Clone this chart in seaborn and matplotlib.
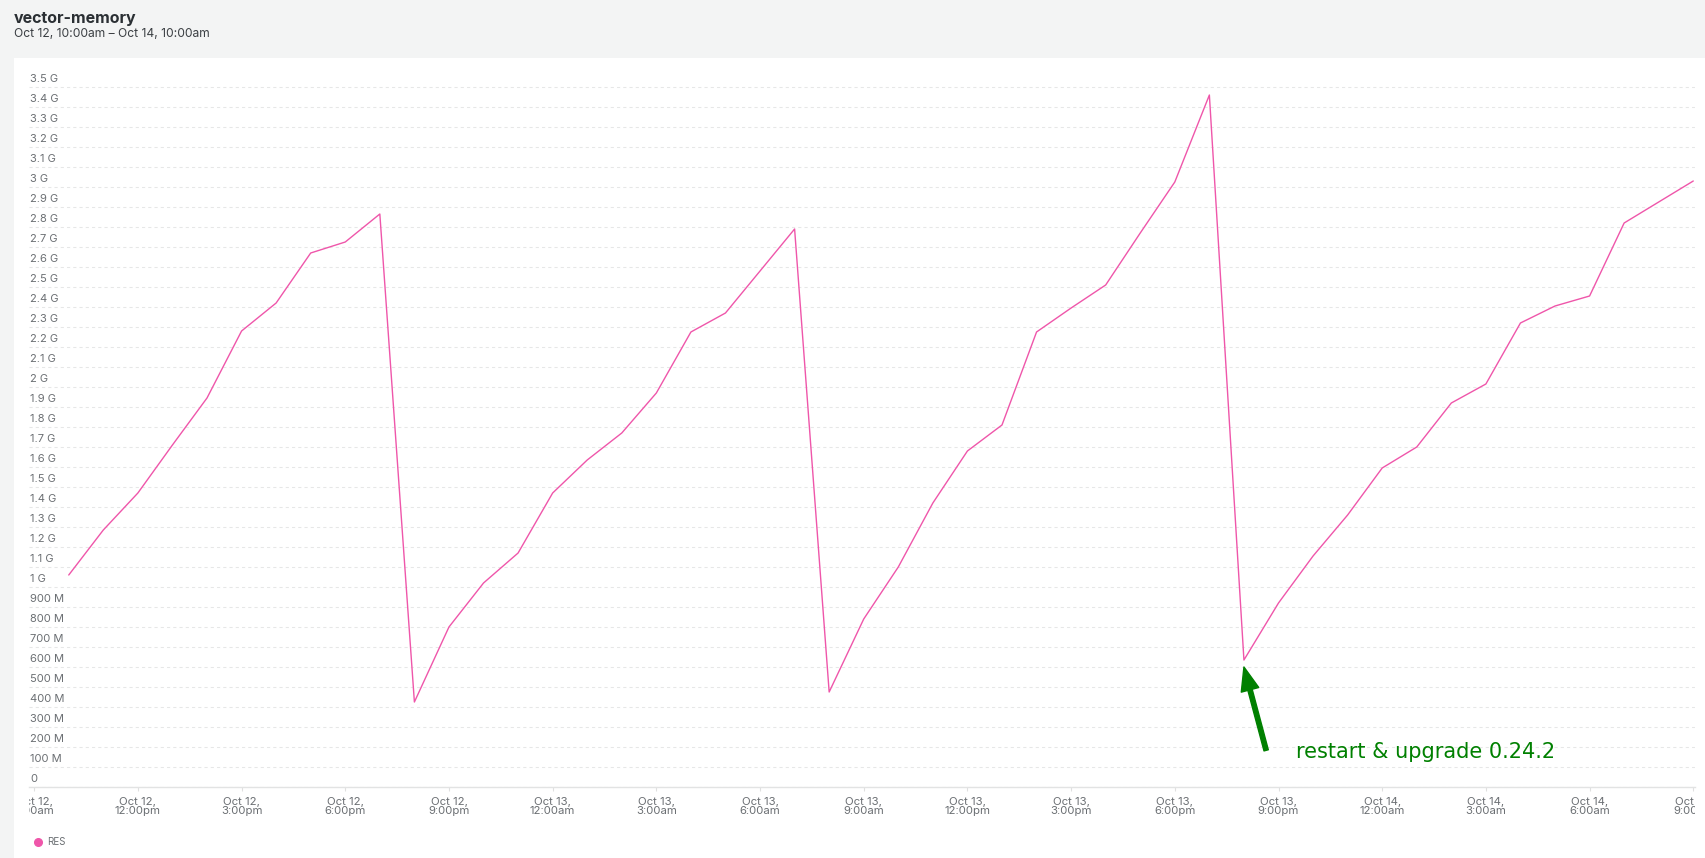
import matplotlib
matplotlib.use("Agg")
import matplotlib.dates as mdates
import matplotlib.pyplot as plt
import pandas as pd
import seaborn as sns
from matplotlib.lines import Line2D
from matplotlib.patches import Rectangle
from matplotlib.ticker import FuncFormatter, MultipleLocator
from matplotlib.transforms import Bbox, ScaledTranslation, TransformedBbox

TITLE = "vector-memory"
SUBTITLE = "Oct 12, 10:00am – Oct 14, 10:00am"
SERIES = "RES"
NOTE = "restart & upgrade 0.24.2"

# hourly samples, Oct 12 10:00am -> Oct 14 9:00am
START = "2022-10-12 10:00"
res_gb = [1.06, 1.285, 1.47, 1.71, 1.945, 2.28, 2.42, 2.67, 2.725, 2.865,
          0.425, 0.80, 1.02, 1.17, 1.47, 1.635, 1.77, 1.97, 2.275, 2.37,
          2.58, 2.79, 0.475, 0.84, 1.10, 1.42, 1.68, 1.81, 2.275, 2.395,
          2.51, 2.77, 3.025, 3.46, 0.635, 0.92, 1.155, 1.36, 1.595, 1.70,
          1.92, 2.015, 2.32, 2.405, 2.455, 2.82, 2.925, 3.03]
RESTART_IDX = 34

PINK = "#ef56aa"
GREY_TXT = "#6b6f73"
W, H = 1706, 858

sns.set_theme(style="white")
plt.rcParams["font.family"] = ["Inter", "DejaVu Sans"]


def fmt_mem(v, pos=None):
    mb = int(round(v * 1000))
    if mb == 0:
        return "0"
    if mb < 1000:
        return f"{mb} M"
    return f"{mb / 1000:g} G"


def fmt_time(x, pos=None):
    d = mdates.num2date(x)
    h = d.hour % 12 or 12
    ampm = "am" if d.hour < 12 else "pm"
    return f"{d:%b} {d.day},\n{h}:{d:%M}{ampm}"


df = pd.DataFrame({
    "time": pd.date_range(START, periods=len(res_gb), freq="h"),
    "res": res_gb,
})

fig = plt.figure(figsize=(W / 100, H / 100), dpi=100)
fig.patch.set_facecolor("#f3f4f4")
# white card behind the chart
fig.patches.append(Rectangle((14 / W, 0), 1, (H - 58) / H,
                             transform=fig.transFigure, facecolor="white",
                             edgecolor="none", zorder=-5))

ax = fig.add_axes([29 / W, (H - 787) / H, (1695 - 29) / W, (787 - 70) / H])
ax.set_facecolor("white")

sns.lineplot(data=df, x="time", y="res", ax=ax, color=PINK, linewidth=1.0,
             legend=False)

t0 = df["time"].iloc[0]
ax.set_xlim(t0 - pd.Timedelta(minutes=69), t0 + pd.Timedelta(minutes=47 * 60 + 3))
ax.set_ylim(0, 3.585)
ax.set_xlabel("")
ax.set_ylabel("")

for s in ["top", "right", "left"]:
    ax.spines[s].set_visible(False)
ax.spines["bottom"].set_color("#e2e3e3")
ax.spines["bottom"].set_linewidth(1.0)

ax.yaxis.set_major_locator(MultipleLocator(0.1))
ax.yaxis.set_major_formatter(FuncFormatter(fmt_mem))
ax.grid(axis="y", color="#e6e7e7", linestyle=(0, (3, 3)), linewidth=0.75)
ax.grid(axis="x", visible=False)
ax.tick_params(axis="y", length=0, pad=-0.8, labelsize=8, labelcolor=GREY_TXT)

ax.xaxis.set_major_locator(mdates.HourLocator(byhour=range(0, 24, 3)))
ax.xaxis.set_major_formatter(FuncFormatter(fmt_time))
ax.tick_params(axis="x", length=3, width=0.8, color="#e0e0e0", pad=4,
               labelsize=8.2, labelcolor=GREY_TXT, bottom=True)

# y labels sit inside the plot, just above their grid line
lift = ScaledTranslation(0, 9 / 100, fig.dpi_scale_trans)
for lbl in ax.get_yticklabels():
    lbl.set_horizontalalignment("left")
    lbl.set_transform(lbl.get_transform() + lift)

# x labels are cut off at the plot edges, as in the dashboard
clip = TransformedBbox(Bbox([[29 / W, 0], [1695 / W, 1]]), fig.transFigure)
for lbl in ax.get_xticklabels():
    lbl.set_linespacing(0.92)
    lbl.set_clip_box(clip)
    lbl.set_clip_on(True)

# restart annotation
tip = (mdates.date2num(df["time"].iloc[RESTART_IDX]), df["res"].iloc[RESTART_IDX])
below = ax.transData + ScaledTranslation(0, -7 / 100, fig.dpi_scale_trans)
ax.annotate("", xy=tip, xycoords=below, xytext=(16, -60),
            textcoords="offset points",
            arrowprops=dict(facecolor="green", edgecolor="green", width=3.2,
                            headwidth=13, headlength=17, shrink=0))
ax.annotate(NOTE, xy=tip, xycoords=below, xytext=(37.5, -61.5),
            textcoords="offset points", ha="left", va="center",
            fontsize=15, color="green", family="DejaVu Sans",
            annotation_clip=False)

fig.text(14 / W, 1 - 18 / H, TITLE, fontsize=11.5, fontweight="bold",
         color="#2a2f33", va="center", ha="left")
fig.text(14 / W, 1 - 34 / H, SUBTITLE, fontsize=8.7, color="#3b3f43",
         va="center", ha="left")

handle = Line2D([], [], ls="", marker="o", ms=5.5, color=PINK)
fig.legend(handles=[handle], labels=[SERIES], loc="center left",
           bbox_to_anchor=(35 / W, (H - 842) / H), frameon=False,
           handlelength=0.6, handletextpad=0.6, borderpad=0, borderaxespad=0,
           fontsize=7, labelcolor=GREY_TXT)

fig.savefig("out.png", dpi=100)
